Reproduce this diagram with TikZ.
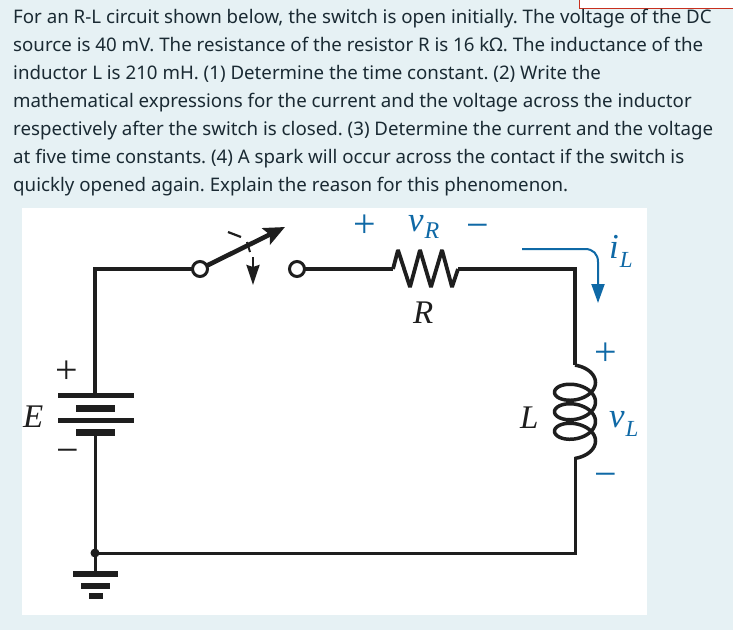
\documentclass[tikz,border=0pt]{standalone}
\usepackage{fontspec}
\setmainfont{Noto Sans}
\newfontfamily\serifmath{Liberation Serif}
\usetikzlibrary{arrows.meta}
\definecolor{pagebg}{HTML}{E6F1F4}
\definecolor{ink}{HTML}{1A2A33}
\definecolor{wire}{HTML}{1E1E1E}
\definecolor{cblue}{HTML}{0F69A6}
\definecolor{redbox}{HTML}{C8301F}
\tikzset{
  x=1pt,y=-1pt,
  para/.style={anchor=base west,inner sep=0pt,text=ink,font=\frenchspacing\fontsize{18.7}{20}\selectfont},
  wireline/.style={draw=wire,line width=3.6pt,line join=miter},
  thinwire/.style={draw=wire,line width=3pt},
  plate/.style={fill=wire,draw=none,inner sep=0pt,minimum height=#1},
  term/.style={circle,draw=wire,line width=3pt,fill=white,minimum size=15pt,inner sep=0pt},
  blab/.style={text=cblue,inner sep=0pt,anchor=base west,font=\serifmath\itshape\fontsize{35}{35}\selectfont},
  klab/.style={text=wire,inner sep=0pt,anchor=base west,font=\serifmath\itshape\fontsize{33}{33}\selectfont},
  bsign/.style={text=cblue,inner sep=0pt,anchor=base,font=\serifmath\fontsize{40}{40}\selectfont},
  ksign/.style={text=wire,inner sep=0pt,anchor=base,font=\serifmath\fontsize{40}{40}\selectfont},
}
\newcommand{\subR}{\raisebox{-7pt}{\fontsize{24}{24}\selectfont R}}
\newcommand{\subL}{\raisebox{-9pt}{\fontsize{23}{23}\selectfont L}}
\begin{document}
\begin{tikzpicture}
\useasboundingbox (0,0) rectangle (733,630);
\fill[pagebg] (0,0) rectangle (733,630);
\fill[white] (22,208) rectangle (647,615);
\draw[redbox,line width=1pt,fill=white] (579.5,-2) rectangle (735,8.5);

\node[para] (l1) at (13,23.5) {For an R-L circuit shown below, the switch is open initially. The voltage of the DC};
\node[para] (l2) at (13,51.5) {source is 40 mV. The resistance of the resistor R is 16 kΩ. The inductance of the};
\node[para] (l3) at (13,79) {inductor L is 210 mH. (1) Determine the time constant. (2) Write the};
\node[para] (l4) at (13,107) {mathematical expressions for the current and the voltage across the inductor};
\node[para] (l5) at (13,135) {respectively after the switch is closed. (3) Determine the current and the voltage};
\node[para] (l6) at (13,163) {at five time constants. (4) A spark will occur across the contact if the switch is};
\node[para] (l7) at (13,191) {quickly opened again. Explain the reason for this phenomenon.};

% named points
\coordinate (tl) at (95,269);
\coordinate (tr) at (575,269);
\coordinate (br) at (575,553);
\coordinate (gnd) at (95,553);
\coordinate (rin) at (393,269);
\coordinate (rout) at (458,269);
\coordinate (lin) at (575,365);
\coordinate (lout) at (575,457);
\coordinate (armtip) at (285,227);
\coordinate (batt) at (95,395);
\coordinate (battb) at (95,432);
\coordinate (g1) at (95,574);

% wires
\draw[wireline] (batt) -- (tl) -- (200,269);
\draw[wireline] (297,269) -- (rin);
\draw[wireline] (rout) -- (tr) -- (lin);
\draw[thinwire] (lout) -- (br) -- (gnd);
\draw[thinwire] (battb) -- (gnd) -- (g1);

% resistor
\draw[wireline,line width=3.8pt,line cap=butt,miter limit=3] (rin) -- (398,250) -- (410,287) -- (420,250) -- (431,287) -- (442,250) -- (452,287) -- (rout);

% switch
\draw[wire,line width=4.6pt,-{Stealth[length=21pt,width=18pt,inset=4pt]}] (200,269) -- (armtip);
\draw[wire,line width=2.2pt] (228,232) -- (241,237);
\draw[wire,line width=2pt] (247,242) -- (250,252);
\draw[wire,line width=2.5pt,-{Stealth[length=20pt,width=13pt,inset=2pt]}] (253,257) -- (253,285);
\node[term] (s1) at (200,269) {};
\node[term] (s2) at (297,269) {};

% inductor
\draw[wire,line width=3.5pt] plot[smooth,domain=-90:1170,samples=170,variable=\t] ({575+20.5*cos(\t)},{382.5+\t/360*19.5+12.5*sin(\t)});

% battery
\node[plate=5pt,minimum width=76pt] (b1) at (96,395) {};
\node[plate=7pt,minimum width=39pt] (b2) at (95,408) {};
\node[plate=5pt,minimum width=76pt] (b3) at (96,420) {};
\node[plate=7pt,minimum width=39pt] (b4) at (95,432) {};

% ground
\fill[wire] (gnd) circle (4.5);
\node[plate=6.5pt,minimum width=45pt] (g1p) at (95.5,574) {};
\node[plate=6.5pt,minimum width=29pt] (g2p) at (95.5,586) {};
\node[plate=6pt,minimum width=14pt] (g3p) at (96,596) {};

% current arrow
\coordinate (iorig) at (522,249);
\coordinate (itip) at (598,303);
\draw[cblue,line width=2pt,-{Stealth[length=19pt,width=13pt,inset=0pt]}] (iorig) -- (585,249) .. controls (593,249) and (598,254) .. (598,262) -- (itip);

% labels
\node[bsign] (plusr) at (365,237) {+};
\node[bsign] (minusr) at (478,238) {−};
\node[blab] (vr) at (408,231) {v\kern1pt\subR};
\node[klab] (rlab) at (413,323) {R};
\node[blab] (il) at (609,258) {i\kern1pt\subL};
\node[bsign] (plusl) at (606,365) {+};
\node[bsign] (minusl) at (606,487) {−};
\node[blab] (vl) at (609,427) {v\kern1pt\subL};
\node[klab] (llab) at (520,428) {L};
\node[klab] (elab) at (23,427) {E};
\node[ksign] (pluse) at (67,383) {+};
\node[ksign] (minuse) at (68,463) {−};
\end{tikzpicture}
\end{document}
